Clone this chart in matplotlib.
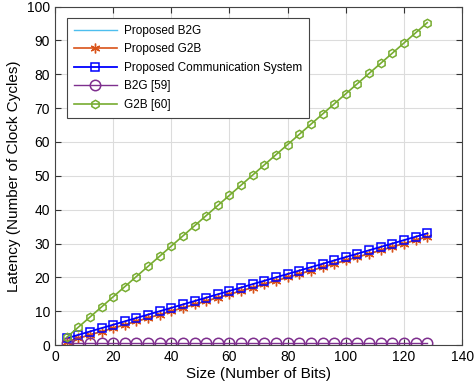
import matplotlib
matplotlib.use("Agg")
import matplotlib.pyplot as plt

plt.rcParams['font.family'] = ['Liberation Sans', 'DejaVu Sans']

size_bits = [4, 8, 12, 16, 20, 24, 28, 32, 36, 40, 44, 48, 52, 56, 60, 64,
             68, 72, 76, 80, 84, 88, 92, 96, 100, 104, 108, 112, 116, 120, 124, 128]
proposed_b2g = [1, 2, 3, 4, 5, 6, 7, 8, 9, 10, 11, 12, 13, 14, 15, 16,
                17, 18, 19, 20, 21, 22, 23, 24, 25, 26, 27, 28, 29, 30, 31, 32]
proposed_g2b = [1, 2, 3, 4, 5, 6, 7, 8, 9, 10, 11, 12, 13, 14, 15, 16,
                17, 18, 19, 20, 21, 22, 23, 24, 25, 26, 27, 28, 29, 30, 31, 32]
proposed_comm = [2, 3, 4, 5, 6, 7, 8, 9, 10, 11, 12, 13, 14, 15, 16, 17,
                 18, 19, 20, 21, 22, 23, 24, 25, 26, 27, 28, 29, 30, 31, 32, 33]
b2g_59 = [0.5] * 32
g2b_60 = [2.25, 5.25, 8.25, 11.25, 14.25, 17.25, 20.25, 23.25, 26.25, 29.25,
          32.25, 35.25, 38.25, 41.25, 44.25, 47.25, 50.25, 53.25, 56.25, 59.25,
          62.25, 65.25, 68.25, 71.25, 74.25, 77.25, 80.25, 83.25, 86.25, 89.25,
          92.25, 95.25]

fig = plt.figure(figsize=(4.74, 3.89), dpi=100)
ax = fig.add_axes([0.116, 0.113, 0.859, 0.87])

ax.plot(size_bits, proposed_b2g, color='#4DBEEE', lw=1.0, label='Proposed B2G')
ax.plot(size_bits, proposed_g2b, color='#D95319', lw=1.2, marker=(6, 2, 0), ms=7,
        mew=1.0, label='Proposed G2B')
ax.plot(size_bits, proposed_comm, color='#0000FF', lw=1.3, marker='s', ms=5.5,
        mfc='none', mew=1.1, label='Proposed Communication System')
ax.plot(size_bits, b2g_59, color='#7E2F8E', lw=1.0, marker='o', ms=7.5,
        mfc='none', mew=1.1, label='B2G [59]')
ax.plot(size_bits, g2b_60, color='#77AC30', lw=1.2, marker='h', ms=6,
        mfc='none', mew=1.1, label='G2B [60]')

ax.set_xlim(0, 140)
ax.set_ylim(0, 100)
ax.set_xticks(range(0, 141, 20))
ax.set_yticks(range(0, 101, 10))
ax.grid(True, color='#dcdcdc', lw=0.8)
ax.set_axisbelow(True)
ax.tick_params(direction='in', top=True, right=True, labelsize=10, length=4,
               color='#333333')
for s in ax.spines.values():
    s.set_color('#444444')
    s.set_linewidth(0.8)

ax.set_xlabel('Size (Number of Bits)', fontsize=11, labelpad=2)
ax.set_ylabel('Latency (Number of Clock Cycles)', fontsize=11, labelpad=4)

leg = ax.legend(loc='upper left', fontsize=8.5, fancybox=False, edgecolor='#444444',
                framealpha=1, handlelength=3.6, handletextpad=0.6, borderpad=0.6,
                labelspacing=0.55, bbox_to_anchor=(0.015, 0.985))
leg.get_frame().set_linewidth(0.8)

fig.savefig('out.png', dpi=100)
